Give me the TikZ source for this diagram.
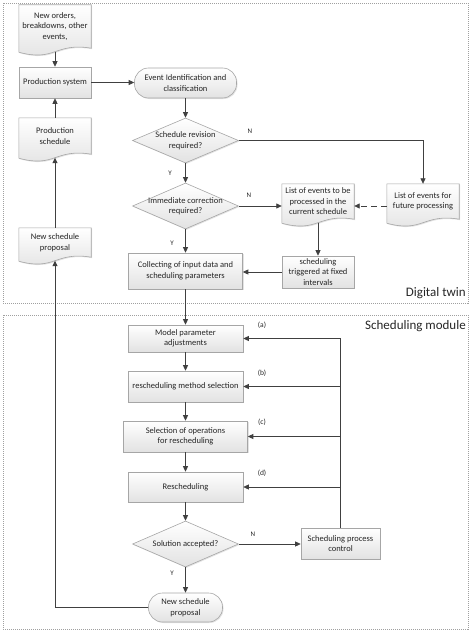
\documentclass[tikz,border=0pt]{standalone}
\usepackage{fontspec}
\setmainfont{Carlito}
\usetikzlibrary{shapes.geometric,arrows.meta,calc,shadows,backgrounds}
\definecolor{linec}{HTML}{404040}
\definecolor{boxb}{HTML}{A6A6A6}
\definecolor{boxbot}{HTML}{E2E2E2}
\definecolor{txtc}{HTML}{262626}
\definecolor{framec}{HTML}{A0A0A0}
\newcommand{\boxfont}{\fontsize{8.5}{10.5}\selectfont}
\tikzset{
  boxfill/.style={top color=white, bottom color=boxbot, draw=boxb, line width=0.6pt,
    drop shadow={opacity=0.22, shadow xshift=1pt, shadow yshift=-1pt}},
  procbox/.style={boxfill, rectangle, inner sep=1pt, align=center, font=\boxfont, text=txtc},
  stadium/.style={procbox, rounded corners=14pt},
  decision/.style={boxfill, diamond, inner sep=0pt},
  doctext/.style={rectangle, inner sep=1pt, align=center, font=\boxfont, text=txtc},
  flow/.style={draw=linec, line width=0.8pt, -{Triangle[length=5.5pt,width=5pt]}},
  conn/.style={draw=linec, line width=0.8pt},
  dashflow/.style={flow, dash pattern=on 6pt off 4pt},
  yn/.style={font=\fontsize{7}{8}\selectfont, text=txtc, inner sep=0pt},
  tag/.style={font=\fontsize{7.5}{9}\selectfont, text=txtc, inner sep=0pt},
  frame/.style={draw=framec, line width=0.6pt, dash pattern=on 1pt off 1pt},
  framelabel/.style={font=\fontsize{13}{15}\selectfont, text=txtc, inner sep=0pt},
}
\newcommand{\mydoc}[1]{%
  \path[boxfill] (#1.north west) -- (#1.north east) -- (#1.south east)
   .. controls ($(#1.south)+(0,-6)$) and ($(#1.south)+(0,14)$) .. ($(#1.south west)+(0,4)$) -- cycle;}
\begin{document}
\begin{tikzpicture}[x=1pt,y=-1pt]
\useasboundingbox (0,0) rectangle (474,634);
% frames
\draw[frame] (3,3) rectangle (468,303);
\draw[frame] (3,315) rectangle (468,629);
\node[framelabel, anchor=east] (dtlabel) at (466,293) {Digital twin};
\node[framelabel, anchor=east] (smlabel) at (466,326) {Scheduling module};

% nodes
\node[doctext, minimum width=72pt, minimum height=43pt] (neworders) at (55,26.5) {New orders,\\breakdowns, other\\events,};
\node[procbox, minimum width=72pt, minimum height=31pt] (prodsys) at (55,82.5) {Production system};
\node[doctext, minimum width=72pt, minimum height=36pt] (prodsched) at (55,136) {Production\\schedule};
\node[doctext, minimum width=72pt, minimum height=29pt] (newsched) at (55,242.5) {New schedule\\proposal};
\node[stadium, minimum width=102pt, minimum height=30pt] (event) at (185.5,83) {Event Identification and\\classification};
\node[decision, minimum width=106pt, minimum height=45pt,
  label={[doctext]center:{Schedule revision\\required?}}] (rev) at (185.5,140.5) {};
\node[decision, minimum width=106pt, minimum height=46pt,
  label={[doctext]center:{Immediate correction\\required?}}] (imm) at (185.5,206) {};
\node[doctext, minimum width=72pt, minimum height=35pt] (current) at (318,201.5) {List of events to be\\processed in the\\current schedule};
\node[doctext, minimum width=72pt, minimum height=35pt] (future) at (423,201.5) {List of events for\\future processing};
\node[procbox, minimum width=114pt, minimum height=36pt] (collect) at (185.5,271) {Collecting of input data and\\scheduling parameters};
\node[procbox, minimum width=72pt, minimum height=32pt] (trig) at (318,272) {scheduling\\triggered at fixed\\intervals};
\node[procbox, minimum width=115pt, minimum height=27pt] (model) at (185.5,338.5) {Model parameter\\adjustments};
\node[procbox, minimum width=115pt, minimum height=31pt] (method) at (185.5,386.5) {rescheduling method selection};
\node[procbox, minimum width=124pt, minimum height=31pt] (selops) at (185.5,436.5) {Selection of operations\\for rescheduling};
\node[procbox, minimum width=115pt, minimum height=30pt] (resched) at (185.5,487) {Rescheduling};
\node[decision, minimum width=106pt, minimum height=46pt,
  label={[doctext]center:{Solution accepted?}}] (sol) at (185.5,544) {};
\node[procbox, minimum width=79pt, minimum height=31pt] (spc) at (340.5,543.5) {Scheduling process\\control};
\node[stadium, minimum width=74pt, minimum height=29pt] (newprop) at (185.5,607.5) {New schedule\\proposal};

% document shapes
\begin{scope}[on background layer]
\mydoc{neworders}
\mydoc{prodsched}
\mydoc{newsched}
\mydoc{current}
\mydoc{future}
\end{scope}

% connectors
\draw[flow] ($(neworders.south)+(0,3.5)$) -- (prodsys.north);
\draw[flow] (prodsched.north) -- (prodsys.south);
\draw[flow] (newsched.north) -- ($(prodsched.south)+(0,3.5)$);
\draw[flow] (prodsys.east) -- (prodsys.east -| event.west);
\draw[flow] (event.south) -- (rev.north);
\draw[flow] (rev.east) -- (rev.east -| future.north) -- (future.north);
\draw[flow] (rev.south) -- (imm.north);
\draw[flow] (imm.east) -- (imm.east -| current.west);
\draw[dashflow] (future.west |- imm.east) -- (current.east |- imm.east);
\draw[flow] ($(current.south)+(0,3.5)$) -- (trig.north);
\draw[flow] (trig.west) -- (trig.west -| collect.east);
\draw[flow] (imm.south) -- (collect.north);
\draw[flow] (collect.south) -- (model.north);
\draw[flow] (model.south) -- (method.north);
\draw[flow] (method.south) -- (selops.north);
\draw[flow] (selops.south) -- (resched.north);
\draw[flow] (resched.south) -- (sol.north);
\draw[flow] (sol.south) -- (newprop.north);
\draw[flow] (sol.east) -- (sol.east -| spc.west);
\draw[conn] (spc.north) -- (spc.north |- model.east);
\foreach \b in {model,method,selops,resched}
  \draw[flow] (spc.north |- \b.east) -- (\b.east);
\draw[flow] (newprop.west) -- (newprop.west -| newsched.south) -- ($(newsched.south)+(0,3.5)$);

% labels
\node[yn] (n1) at (250,131) {N};
\node[yn] (y1) at (170,173) {Y};
\node[yn] (n2) at (249,195) {N};
\node[yn] (y2) at (172,243) {Y};
\node[yn] (n3) at (253,534) {N};
\node[yn] (y3) at (172,573) {Y};
\node[tag] (ta) at (262,325) {(a)};
\node[tag] (tb) at (262,373) {(b)};
\node[tag] (tc) at (262,422) {(c)};
\node[tag] (td) at (262,473) {(d)};
\end{tikzpicture}
\end{document}
